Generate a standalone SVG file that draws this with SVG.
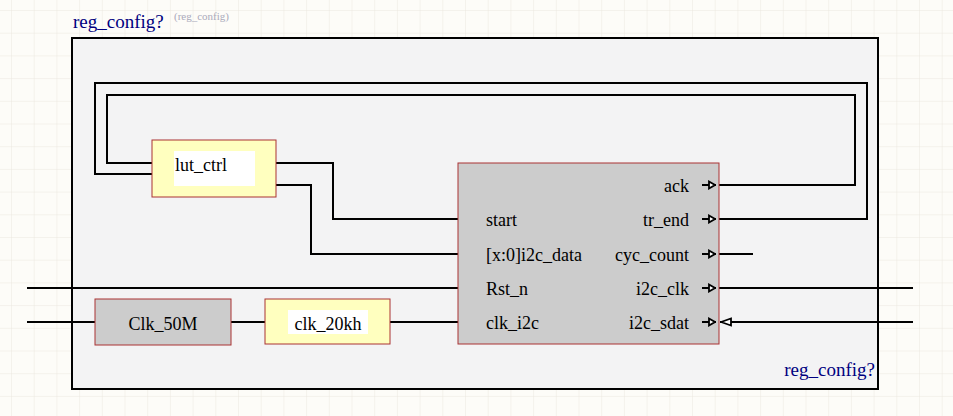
<svg xmlns="http://www.w3.org/2000/svg" width="953" height="416" viewBox="0 0 953 416">
<defs>
<pattern id="g" width="22.7" height="22.7" patternUnits="userSpaceOnUse" x="11" y="10"><path d="M0 0H22.7M0 0V22.7" fill="none" stroke="#ebe8e0" stroke-width="1"/></pattern>
<marker id="in" viewBox="0 0 12 10" refX="12" refY="5" markerWidth="12" markerHeight="10" markerUnits="userSpaceOnUse" orient="auto"><path d="M1 1.5L11 5L1 8.5Z" fill="#fff" stroke="#000" stroke-width="1.8"/></marker>
<marker id="out" viewBox="0 0 8 10" refX="8" refY="5" markerWidth="8" markerHeight="10" markerUnits="userSpaceOnUse" orient="auto"><path d="M1 1.5L7 5L1 8.5Z" fill="#fff" stroke="#000" stroke-width="1.8"/></marker>
</defs>
<style>
text{font-family:"Liberation Serif","Times New Roman",serif;font-size:18px;fill:#000}
.t{fill:#000080;font-size:19px}
.w{fill:none;stroke:#000;stroke-width:2}
.blk{stroke:#a33;stroke-width:1}
</style>
<rect width="953" height="416" fill="#fdfcf8"/>
<rect width="953" height="416" fill="url(#g)"/>
<g id="reg_config">
<rect x="72" y="38" width="806" height="351" fill="#f3f3f4" stroke="#000" stroke-width="2"/>
<text x="73" y="28" class="t">reg_config?</text>
<text x="174" y="20" style="font-size:11px;fill:#aab">(reg_config)</text>
<text x="875" y="376" class="t" text-anchor="end">reg_config?</text>
</g>
<g id="connectors">
<path class="w" d="M719 185H855V95H107V163H152"/>
<path class="w" d="M719 219H867V83H95V174H152"/>
<path class="w" d="M276 163H333V219H470" marker-end="url(#in)"/>
<path class="w" d="M276 185H311V254H470" marker-end="url(#in)"/>
<path class="w" d="M27 288H470" marker-end="url(#in)"/>
<path class="w" d="M27 322H107" marker-end="url(#in)"/>
<path class="w" d="M231 322H265"/>
<path class="w" d="M390 322H470" marker-end="url(#in)"/>
<path class="w" d="M719 254H753"/>
<path class="w" d="M719 288H913"/>
<path class="w" d="M913 322H720" marker-end="url(#in)"/>
</g>
<g id="lut_ctrl">
<rect x="152" y="140" width="124" height="57" fill="#ffffbf" class="blk"/>
<rect x="174" y="151" width="81" height="35" fill="#fff"/>
<text x="175" y="171">lut_ctrl</text>
</g>
<g id="i2c">
<rect x="458" y="163" width="261" height="181" fill="#cccccc" class="blk"/>
<text x="486" y="226">start</text>
<text x="486" y="261">[x:0]i2c_data</text>
<text x="486" y="295">Rst_n</text>
<text x="486" y="329">clk_i2c</text>
<g text-anchor="end">
<text x="689" y="192">ack</text>
<text x="689" y="226">tr_end</text>
<text x="689" y="261">cyc_count</text>
<text x="689" y="295">i2c_clk</text>
<text x="689" y="329">i2c_sdat</text>
</g>
<g class="w">
<path d="M702 185H716" marker-end="url(#out)"/>
<path d="M702 219H716" marker-end="url(#out)"/>
<path d="M702 254H716" marker-end="url(#out)"/>
<path d="M702 288H716" marker-end="url(#out)"/>
<path d="M702 322H716" marker-end="url(#out)"/>
</g>
</g>
<g id="clk_50M">
<rect x="95" y="299" width="136" height="46" fill="#cccccc" class="blk"/>
<text x="163" y="330" text-anchor="middle">Clk_50M</text>
</g>
<g id="clk_20kh">
<rect x="265" y="299" width="125" height="45" fill="#ffffbf" class="blk"/>
<rect x="288" y="310" width="80" height="24" fill="#fff"/>
<text x="328" y="330" text-anchor="middle">clk_20kh</text>
</g>
</svg>
